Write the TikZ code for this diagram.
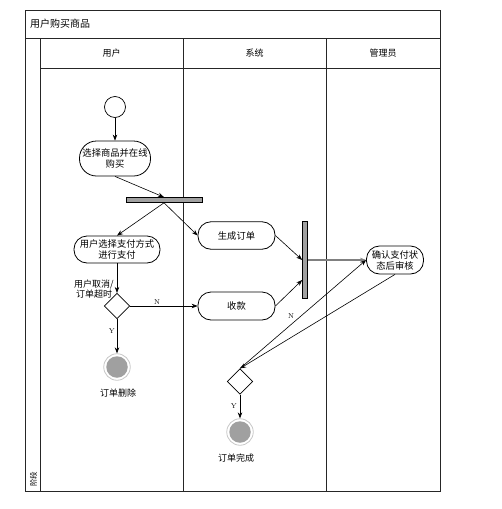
\documentclass[tikz,border=0pt]{standalone}
\usepackage{fontspec}
\newfontfamily\cjk{Noto Sans CJK SC}
\usetikzlibrary{shapes.geometric,arrows.meta,calc}
\definecolor{bargray}{HTML}{A0A0A0}
\definecolor{ringgray}{HTML}{C8C8C8}
\definecolor{linkgray}{HTML}{808080}
\tikzset{
  frameline/.style={draw=black!85,line width=1pt},
  activity/.style={draw,line width=0.8pt,rectangle,rounded corners=13pt,inner sep=0pt,align=center,font=\cjk\fontsize{9.3}{11}\selectfont},
  barbox/.style={draw,line width=0.6pt,fill=bargray,rectangle,inner sep=0pt},
  decision/.style={draw,line width=0.6pt,diamond,aspect=1,inner sep=0pt,minimum size=25.5pt},
  startnode/.style={draw,line width=0.7pt,circle,inner sep=0pt,minimum size=21pt},
  endring/.style={draw=ringgray,line width=0.8pt,circle,inner sep=0pt,minimum size=26.5pt},
  endfill/.style={fill=bargray,circle,inner sep=0pt,minimum size=21.5pt},
  conn/.style={line width=0.6pt,-{Stealth[length=6pt,width=4.5pt]}},
  cjklabel/.style={font=\cjk\fontsize{9}{10.5}\selectfont,inner sep=0pt,align=center},
  yn/.style={font=\fontsize{7}{8}\selectfont,inner sep=0pt}
}
\begin{document}
\begin{tikzpicture}[x=1pt,y=-1pt]
\useasboundingbox (0,0) rectangle (501,509);
% frame
\draw[frameline] (25,10) rectangle (440,491);
\draw[frameline] (25,38) -- (440,38);
\draw[frameline] (40,38) -- (40,491);
\draw[frameline] (40,68) -- (440,68);
\draw[frameline] (183,38) -- (183,491);
\draw[frameline] (326,38) -- (326,491);
\node[cjklabel,anchor=west,font=\cjk\fontsize{10}{11}\selectfont] (title) at (30,24) {用户购买商品};
\node[cjklabel] (h1) at (111.5,53.5) {用户};
\node[cjklabel] (h2) at (254.5,53.5) {系统};
\node[cjklabel] (h3) at (383,53.5) {管理员};
\node[cjklabel,rotate=90,font=\cjk\fontsize{7.5}{9}\selectfont] (stage) at (33.5,479) {阶段};
% nodes
\node[startnode] (start) at (115,107) {};
\node[activity,minimum width=71pt,minimum height=35pt,rounded corners=17pt] (a1) at (115,158.5) {选择商品并在线\\购买};
\node[barbox,minimum width=76pt,minimum height=5pt] (fork) at (164,200) {};
\node[activity,minimum width=86pt,minimum height=27pt] (a2) at (117,249.5) {用户选择支付方式\\进行支付};
\node[activity,minimum width=77pt,minimum height=27.5pt] (a3) at (236.5,235.5) {生成订单};
\node[activity,minimum width=77pt,minimum height=28pt] (a4) at (236.5,306) {收款};
\node[barbox,minimum width=5pt,minimum height=77pt] (join) at (305,260) {};
\node[activity,minimum width=57pt,minimum height=28pt] (a5) at (395,260) {确认支付状\\态后审核};
\node[decision] (d1) at (117,306) {};
\node[decision] (d2) at (240,381.5) {};
\node[endring] (f1) at (117,367) {};
\node[endfill] (f1in) at (117,367) {};
\node[endring] (f2) at (240,432) {};
\node[endfill] (f2in) at (240,432) {};
\node[cjklabel] (l1) at (94,289) {用户取消/\\订单超时};
\node[cjklabel] (l2) at (118,393) {订单删除};
\node[cjklabel] (l3) at (236,458) {订单完成};
% connectors
\draw[conn] (start) -- (a1);
\draw[conn] (a1.south) -- (fork.north);
\draw[conn] (fork.south) -- (a2.north);
\draw[conn] (fork.south) -- (a3.west);
\draw[conn] (a2.south) -- (d1.north);
\draw[conn] (d1.east) -- node[yn,above,pos=0.4,yshift=1pt] (n1) {N} (a4.west);
\draw[conn] (d1.south) -- node[yn,left,pos=0.35,xshift=-2pt] (y1) {Y} (f1.north);
\draw[conn] (a3.east) -- (join.west);
\draw[conn] (a4.east) -- ([yshift=-20pt]join.west);
\draw[line width=1.5pt,draw=linkgray,-{Stealth[length=6pt,width=4.5pt]}] (join.east) -- (a5.west);
\draw[conn] (a5.south) -- (d2.north);
\draw[conn] (d2.north) -- (a5.west);
\node[yn] (n2) at (291,316) {N};
\draw[conn] (d2.south) -- node[yn,left,pos=0.5,xshift=-3pt] (y2) {Y} (f2.north);
\end{tikzpicture}
\end{document}
